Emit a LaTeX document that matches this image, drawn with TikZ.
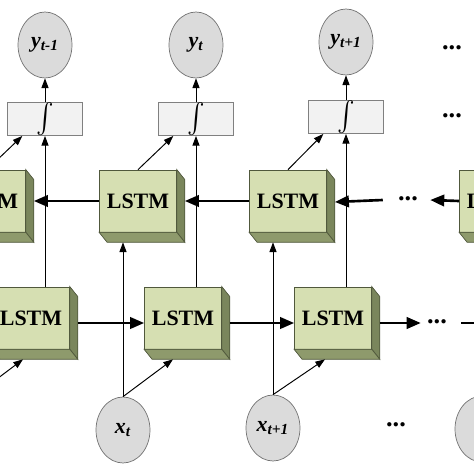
\documentclass[tikz,border=0pt]{standalone}
\usepackage{fontspec}
\setmainfont{Liberation Serif}
\usetikzlibrary{arrows.meta, calc, shapes.geometric}
\definecolor{lstmface}{RGB}{214,223,178}
\definecolor{lstmside}{RGB}{122,134,92}
\definecolor{lstmbase}{RGB}{142,154,108}
\definecolor{lstmline}{RGB}{80,88,60}

\begin{document}
\begin{tikzpicture}[x=0.02cm, y=-0.02cm,
  lstm/.style={draw=lstmline, fill=lstmface, minimum width=1.54cm, minimum height=1.24cm, inner sep=0pt, font=\bfseries\fontsize{12.5}{12.5}\selectfont},
  unit/.style={ellipse, draw=gray!90!black, fill=gray!28, minimum width=1.08cm, minimum height=1.32cm, inner sep=0pt, font=\bfseries\itshape\fontsize{12.5}{12.5}\selectfont},
  sig/.style={draw=gray, fill=gray!10, minimum width=1.5cm, minimum height=0.54cm, inner sep=0pt},
  flow/.style={line width=1.5pt, -{Triangle[length=8pt,width=6.5pt]}},
  feed/.style={line width=0.55pt, -{Triangle[length=5.5pt,width=4pt]}},
  dots/.style={font=\bfseries\fontsize{15}{15}\selectfont, inner sep=0pt}]
  \def\dx{8}   % box depth, right
  \def\dy{10}  % box depth, down

  \useasboundingbox (0,0) rectangle (474,474);
  \clip (0,0) rectangle (474,474);

  % backward layer
  \node[lstm] (u1) at (-13,201) {LSTM};
  \node[lstm] (u2) at (138,201) {LSTM};
  \node[lstm] (u3) at (288,201) {LSTM};
  \node[lstm] (u4) at (498,201) {LSTM};

  % forward layer
  \node[lstm] (l1) at (31,318) {LSTM};
  \node[lstm] (l2) at (183,318) {LSTM};
  \node[lstm] (l3) at (333,318) {LSTM};

  % box depth
  \foreach \n in {u1,u2,u3,u4,l1,l2,l3} {
    \filldraw[fill=lstmside, draw=lstmline] (\n.north east) -- ++(\dx,\dy)
      -- ($(\n.south east)+(\dx,\dy)$) -- (\n.south east) -- cycle;
    \filldraw[fill=lstmbase, draw=lstmline] (\n.south west) -- (\n.south east)
      -- ($(\n.south east)+(\dx,\dy)$) -- ($(\n.south west)+(\dx,\dy)$) -- cycle;
  }

  % activation
  \node[sig] (s1) at (45,119) {\scalebox{1.5}[1.7]{$\int$}};
  \node[sig] (s2) at (196,119) {\scalebox{1.5}[1.7]{$\int$}};
  \node[sig] (s3) at (346,117) {\scalebox{1.5}[1.7]{$\int$}};

  % outputs
  \node[unit] (y1) at (45,45) {y\textsubscript{t-1}};
  \node[unit] (y2) at (196,45) {y\textsubscript{t}};
  \node[unit] (y3) at (346,42) {y\textsubscript{t+1}};

  % inputs
  \coordinate (x0) at (-27,397);
  \node[unit] (x1) at (123,430) {x\textsubscript{t}};
  \node[unit] (x2) at (273,428) {x\textsubscript{t+1}};
  \node[unit] (x3) at (482,429) {};

  % dots
  \node[dots] (d1) at (452,48) {...};
  \node[dots] (d2) at (452,116) {...};
  \node[dots] (du) at (408,199) {...};
  \node[dots] (dl) at (437,322) {...};
  \node[dots] (dx) at (396,425) {...};
  \coordinate (l4w) at (500,323);

  % forward layer -> activation -> output
  \foreach \i in {1,2,3} {
    \draw[feed] (l\i.north -| s\i.south) -- (s\i.south);
    \draw[feed] (s\i.north) -- (y\i.south);
    \draw[feed] (u\i.north) -- ($(s\i.south west)!0.2!(s\i.south east)$);
  }

  % inputs
  \draw[feed] (x0) -- ($(l1.south)+(-8,\dy)$);
  \draw[feed] (x1.north) -- ($(x1.north |- u2.south)+(0,\dy)$);
  \draw[feed] (x1.north) -- ($(l2.south)+(-10,\dy)$);
  \draw[feed] (x2.north) -- ($(x2.north |- u3.south)+(0,\dy)$);
  \draw[feed] (x2.north) -- ($(l3.south)+(-8,\dy)$);

  % forward recurrence
  \draw[flow] ($(l1.east)+(\dx,5)$) -- ($(l2.west)+(0,5)$);
  \draw[flow] ($(l2.east)+(\dx,5)$) -- ($(l3.west)+(0,5)$);
  \draw[flow] ($(l3.east)+(\dx,5)$) -- ($(dl.west)+(-6,1)$);
  \draw[line width=1.5pt] ($(dl.east)+(14,1)$) -- (l4w);

  % backward recurrence
  \draw[flow] (u2.west) -- ($(u1.east)+(\dx,0)$);
  \draw[flow] (u3.west) -- ($(u2.east)+(\dx,0)$);
  \draw[flow] ($(du.west)+(-15,1)$) -- ($(u3.east)+(\dx,1)$);
  \draw[flow] (u4.west) -- ($(du.east)+(12,1)$);

\end{tikzpicture}
\end{document}
